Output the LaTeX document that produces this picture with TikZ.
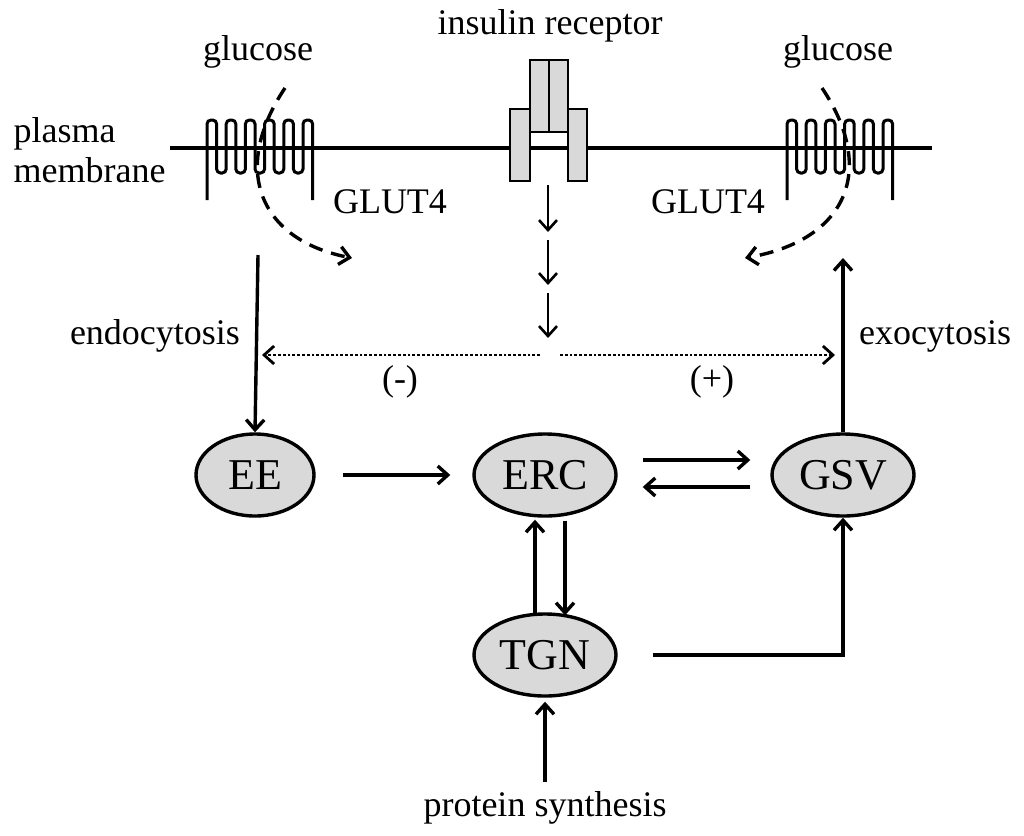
\documentclass[tikz,border=0pt]{standalone}
\usepackage{fontspec}
\setmainfont{Liberation Serif}
\usetikzlibrary{arrows.meta,shapes.geometric}
\begin{document}
\begin{tikzpicture}[x=1pt,y=-1pt,line width=3.4pt,
  lbl/.style={font=\fontsize{36}{40}\selectfont,inner sep=0},
  org/.style={ellipse,draw,fill=gray!30,minimum width=#1,minimum height=82pt,font=\fontsize{44}{48}\selectfont,inner sep=0},
  ar/.style={-{Straight Barb[length=10pt,width=18pt]}},
  dar/.style={ar,dash pattern=on 14pt off 9pt},
  box/.style={draw,fill=gray!30,line width=2.8pt}]
\useasboundingbox (0,0) rectangle (1024,835);
% membrane
\draw (170,148) -- (932,148);
\node[lbl,align=left,anchor=west] (pm) at (12,150) {plasma\\membrane};
% GLUT4 serpentines
\foreach \x in {207,787}{
  \draw[line width=3pt,rounded corners=4pt] (\x,200)
    \foreach \k in {0,...,4}{ -- ({\x+19.2*\k},120) -- ({\x+19.2*\k+9.6},120) -- ({\x+19.2*\k+9.6},173) -- ({\x+19.2*\k+19.2},173) }
    -- ({\x+96},120) -- ({\x+105.6},120) -- ({\x+105.6},200);
}
\node[lbl] (g1) at (258,52) {glucose};
\node[lbl] (g2) at (838,52) {glucose};
\node[lbl] (gl1) at (390,202) {GLUT4};
\node[lbl] (gl2) at (708,202) {GLUT4};
\node[lbl] (ir) at (550,26) {insulin receptor};
% receptor
\draw[box] (510,109) rectangle (530,181);
\draw[box] (568,109) rectangle (587,181);
\draw[box] (530,60) rectangle (568,132);
\draw[line width=2.8pt] (549,60) -- (549,132);
\draw[line width=2.8pt] (530,148) -- (568,148);
% glucose flows
\draw[dar] (285,88) .. controls (230,170) and (260,240) .. (352,258);
\draw[dar] (822,88) .. controls (877,170) and (847,240) .. (745,258);
% insulin signal
\coordinate (s0) at (548,185); \coordinate (s1) at (548,232);
\coordinate (s2) at (548,240); \coordinate (s3) at (548,285);
\coordinate (s4) at (548,293); \coordinate (s5) at (548,338);
\draw[ar,line width=2.6pt] (s0) -- (s1);
\draw[ar,line width=2.6pt] (s2) -- (s3);
\draw[ar,line width=2.6pt] (s4) -- (s5);
\coordinate (dl0) at (540,355); \coordinate (dl1) at (262,355);
\coordinate (dr0) at (560,355); \coordinate (dr1) at (835,355);
\draw[ar,dotted,line width=2.8pt] (dl0) -- (dl1);
\draw[ar,dotted,line width=2.8pt] (dr0) -- (dr1);
\node[lbl] (minus) at (400,382) {(-)};
\node[lbl] (plus) at (712,382) {(+)};
% organelles
\node[org=118pt] (EE) at (255,475) {EE};
\node[org=142pt] (ERC) at (545,475) {ERC};
\node[org=142pt] (GSV) at (843,475) {GSV};
\node[org=142pt] (TGN) at (545,655) {TGN};
\coordinate (en0) at (258,255);
\draw[ar] (en0) -- (EE.north);
\node[lbl] (endo) at (155,336) {endocytosis};
\coordinate (ex1) at (843,258);
\draw[ar] (GSV.north) -- (ex1);
\node[lbl] (exo) at (935,336) {exocytosis};
\draw[ar] ([xshift=27pt]EE.east) -- ([xshift=-22pt]ERC.west);
\draw[ar] ([xshift=25pt,yshift=15pt]ERC.east) -- ([xshift=-20pt,yshift=15pt]GSV.west);
\draw[ar] ([xshift=-20pt,yshift=-12pt]GSV.west) -- ([xshift=25pt,yshift=-12pt]ERC.east);
\draw[ar] ([xshift=-10pt,yshift=-3pt]TGN.north) -- ([xshift=-10pt,yshift=-2pt]ERC.south);
\draw[ar] ([xshift=20pt,yshift=-3pt]ERC.south) -- ([xshift=20pt,yshift=-3pt]TGN.north);
\draw[ar] ([xshift=35pt]TGN.east) -- (843,655) -- (GSV.south);
\node[lbl] (ps) at (545,808) {protein synthesis};
\draw[ar] ([yshift=8pt]ps.north) -- ([yshift=-4pt]TGN.south);
\end{tikzpicture}
\end{document}
